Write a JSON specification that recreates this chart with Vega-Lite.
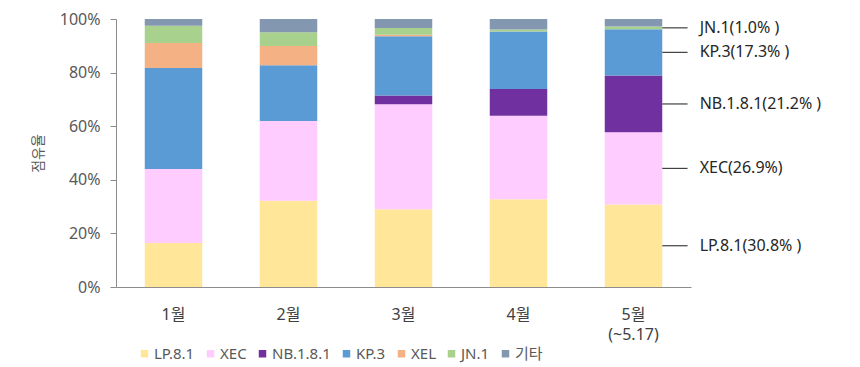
{
  "$schema": "https://vega.github.io/schema/vega-lite/v6.json",
  "width": 575,
  "height": 268,
  "autosize": "none",
  "padding": {"left": 116, "top": 19, "right": 169, "bottom": 80},
  "background": "white",
  "config": {"view": {"stroke": null}, "font": "Noto Sans, Noto Sans CJK KR"},
  "data": {
    "values": [
      {"month": "1월", "variant": "LP.8.1", "value": 16.4},
      {"month": "1월", "variant": "XEC", "value": 27.6},
      {"month": "1월", "variant": "KP.3", "value": 37.7},
      {"month": "1월", "variant": "XEL", "value": 9.3},
      {"month": "1월", "variant": "JN.1", "value": 6.5},
      {"month": "1월", "variant": "기타", "value": 2.5},
      {"month": "2월", "variant": "LP.8.1", "value": 32.2},
      {"month": "2월", "variant": "XEC", "value": 29.7},
      {"month": "2월", "variant": "KP.3", "value": 20.8},
      {"month": "2월", "variant": "XEL", "value": 7.2},
      {"month": "2월", "variant": "JN.1", "value": 5.2},
      {"month": "2월", "variant": "기타", "value": 4.9},
      {"month": "3월", "variant": "LP.8.1", "value": 29.0},
      {"month": "3월", "variant": "XEC", "value": 39.2},
      {"month": "3월", "variant": "NB.1.8.1", "value": 3.3},
      {"month": "3월", "variant": "KP.3", "value": 22.1},
      {"month": "3월", "variant": "XEL", "value": 0.5},
      {"month": "3월", "variant": "JN.1", "value": 2.5},
      {"month": "3월", "variant": "기타", "value": 3.4},
      {"month": "4월", "variant": "LP.8.1", "value": 32.7},
      {"month": "4월", "variant": "XEC", "value": 31.2},
      {"month": "4월", "variant": "NB.1.8.1", "value": 10.0},
      {"month": "4월", "variant": "KP.3", "value": 21.4},
      {"month": "4월", "variant": "JN.1", "value": 0.8},
      {"month": "4월", "variant": "기타", "value": 3.9},
      {"month": "5월", "variant": "LP.8.1", "value": 30.8, "note": "LP.8.1(30.8% )"},
      {"month": "5월", "variant": "XEC", "value": 26.9, "note": "XEC(26.9%)"},
      {"month": "5월", "variant": "NB.1.8.1", "value": 21.2, "note": "NB.1.8.1(21.2% )"},
      {"month": "5월", "variant": "KP.3", "value": 17.3, "note": "KP.3(17.3% )"},
      {"month": "5월", "variant": "JN.1", "value": 1.0, "note": "JN.1(1.0% )"},
      {"month": "5월", "variant": "기타", "value": 2.8}
    ]
  },
  "transform": [
    {"calculate": "indexof(['LP.8.1','XEC','NB.1.8.1','KP.3','XEL','JN.1','기타'], datum.variant)", "as": "rank"},
    {"stack": "value", "groupby": ["month"], "sort": [{"field": "rank", "order": "ascending"}], "as": ["y0", "y1"]},
    {"calculate": "(datum.y0 + datum.y1) / 2", "as": "ymid"}
  ],
  "layer": [
    {
      "mark": {"type": "bar"},
      "encoding": {
        "x": {
          "field": "month", "type": "nominal",
          "sort": ["1월", "2월", "3월", "4월", "5월"],
          "scale": {"paddingInner": 0.5, "paddingOuter": 0.25},
          "axis": {
            "title": null, "labelAngle": 0, "ticks": false,
            "domainColor": "#8c8c8c", "labelFontSize": 16, "labelColor": "#404040",
            "labelPadding": 19, "labelLineHeight": 20,
            "labelExpr": "datum.value == '5월' ? ['5월', '(~5.17)'] : datum.value"
          }
        },
        "y": {
          "field": "y0", "type": "quantitative",
          "scale": {"domain": [0, 100]},
          "axis": {
            "title": "점유율", "values": [0, 20, 40, 60, 80, 100],
            "labelExpr": "datum.value + '%'", "grid": false,
            "domainColor": "#8c8c8c", "tickColor": "#8c8c8c", "tickSize": 6,
            "labelFontSize": 16, "labelColor": "#595959", "labelPadding": 10,
            "titleFontSize": 14, "titleColor": "#595959", "titleFontWeight": "normal",
            "titlePadding": 14
          }
        },
        "y2": {"field": "y1"},
        "color": {
          "field": "variant", "type": "nominal",
          "scale": {
            "domain": ["LP.8.1", "XEC", "NB.1.8.1", "KP.3", "XEL", "JN.1", "기타"],
            "range": ["#FFE699", "#FFCCFF", "#7030A0", "#5B9BD5", "#F4B183", "#A9D18E", "#8497B0"]
          },
          "legend": {
            "title": null, "orient": "none", "legendX": 21, "legendY": 327,
            "direction": "horizontal", "symbolType": "square", "symbolSize": 56,
            "symbolStrokeWidth": 0, "labelFontSize": 15, "labelColor": "#595959",
            "columnPadding": 8, "labelOffset": 2
          }
        }
      }
    },
    {
      "transform": [{"filter": "datum.note != null"}],
      "mark": {"type": "rule", "color": "#404040", "strokeWidth": 1.2},
      "encoding": {
        "x": {"field": "month", "type": "nominal", "sort": ["1월", "2월", "3월", "4월", "5월"], "bandPosition": 1},
        "x2": {"field": "month", "bandPosition": 1.44},
        "y": {"field": "ymid", "type": "quantitative"}
      }
    },
    {
      "transform": [{"filter": "datum.note != null"}],
      "mark": {"type": "text", "align": "left", "baseline": "middle", "fontSize": 16, "color": "#262626"},
      "encoding": {
        "x": {"field": "month", "type": "nominal", "sort": ["1월", "2월", "3월", "4월", "5월"], "bandPosition": 1.65},
        "y": {"field": "ymid", "type": "quantitative"},
        "text": {"field": "note"}
      }
    }
  ]
}
